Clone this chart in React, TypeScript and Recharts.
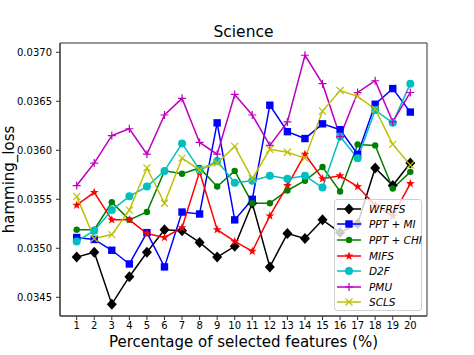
import { LineChart, Line, XAxis, YAxis, Legend, ReferenceArea } from 'recharts'

// percentage of selected features
const percentages = [1, 2, 3, 4, 5, 6, 7, 8, 9, 10, 11, 12, 13, 14, 15, 16, 17, 18, 19, 20]
const yTicks = [0.0345, 0.035, 0.0355, 0.036, 0.0365, 0.037]
const xDomain = [0.05, 20.95]
const yDomain = [0.034309, 0.037095]

// hamming loss per method
const wfrfs = [0.03491, 0.03496, 0.03443, 0.03471, 0.03496, 0.03519, 0.03518, 0.03506, 0.03491, 0.03502, 0.03546, 0.03481, 0.03515, 0.0351, 0.03529, 0.03516, 0.03525, 0.03582, 0.03564, 0.03587]
const pptMi = [0.03511, 0.03509, 0.03498, 0.03484, 0.03516, 0.03481, 0.03537, 0.03535, 0.03628, 0.03529, 0.0355, 0.03646, 0.03619, 0.03612, 0.03627, 0.03621, 0.03596, 0.03647, 0.03663, 0.03639]
const pptChi = [0.03519, 0.03519, 0.03547, 0.03529, 0.03537, 0.03579, 0.03576, 0.03582, 0.03563, 0.03579, 0.03546, 0.03546, 0.03559, 0.03569, 0.03583, 0.03558, 0.03606, 0.03605, 0.03561, 0.03578]
const mifs = [0.03544, 0.03557, 0.03529, 0.03529, 0.03515, 0.03511, 0.03521, 0.03578, 0.03519, 0.03507, 0.03497, 0.03533, 0.03564, 0.03596, 0.03571, 0.03574, 0.03563, 0.03544, 0.03533, 0.03566]
const d2f = [0.03507, 0.03518, 0.03539, 0.03553, 0.03563, 0.03579, 0.03607, 0.0358, 0.03589, 0.03567, 0.03569, 0.03574, 0.03571, 0.03574, 0.03562, 0.03614, 0.03592, 0.03641, 0.03628, 0.03668]
const pmu = [0.03564, 0.03587, 0.03615, 0.03622, 0.03596, 0.03636, 0.03653, 0.03608, 0.03596, 0.03657, 0.03636, 0.03605, 0.03629, 0.03697, 0.03668, 0.03614, 0.03659, 0.03671, 0.03629, 0.03659]
const scls = [0.03553, 0.0351, 0.03514, 0.03539, 0.03582, 0.03546, 0.03592, 0.0358, 0.03587, 0.03604, 0.03571, 0.03601, 0.03598, 0.03592, 0.0364, 0.03661, 0.03655, 0.03642, 0.03606, 0.03585]

const data = percentages.map((p, i) => ({
  pct: p,
  wfrfs: wfrfs[i],
  pptMi: pptMi[i],
  pptChi: pptChi[i],
  mifs: mifs[i],
  d2f: d2f[i],
  pmu: pmu[i],
  scls: scls[i],
}))

type MarkerKind = 'diamond' | 'square' | 'dot' | 'circle' | 'star' | 'plus' | 'cross'

const series: { key: string; name: string; color: string; marker: MarkerKind }[] = [
  { key: 'wfrfs', name: 'WFRFS', color: '#000000', marker: 'diamond' },
  { key: 'pptMi', name: 'PPT + MI', color: '#0000ff', marker: 'square' },
  { key: 'pptChi', name: 'PPT + CHI', color: '#008000', marker: 'dot' },
  { key: 'mifs', name: 'MIFS', color: '#ff0000', marker: 'star' },
  { key: 'd2f', name: 'D2F', color: '#00bfbf', marker: 'circle' },
  { key: 'pmu', name: 'PMU', color: '#bf00bf', marker: 'plus' },
  { key: 'scls', name: 'SCLS', color: '#bfbf00', marker: 'cross' },
]

const FONT = '"DejaVu Sans", sans-serif'

function starPoints(x: number, y: number, outer: number, inner: number) {
  const pts: string[] = []
  for (let k = 0; k < 10; k++) {
    const r = k % 2 === 0 ? outer : inner
    const a = -Math.PI / 2 + (k * Math.PI) / 5
    pts.push(`${x + r * Math.cos(a)},${y + r * Math.sin(a)}`)
  }
  return pts.join(' ')
}

function Marker({ kind, x, y, color }: { kind: MarkerKind; x: number; y: number; color: string }) {
  switch (kind) {
    case 'diamond':
      return <polygon points={`${x},${y - 5.5} ${x + 5},${y} ${x},${y + 5.5} ${x - 5},${y}`} fill={color} />
    case 'square':
      return <rect x={x - 3.7} y={y - 3.7} width={7.4} height={7.4} fill={color} />
    case 'dot':
      return <circle cx={x} cy={y} r={3.2} fill={color} />
    case 'circle':
      return <circle cx={x} cy={y} r={4} fill={color} />
    case 'star':
      return <polygon points={starPoints(x, y, 4.6, 1.9)} fill={color} />
    case 'plus':
      return <path d={`M${x - 4},${y}H${x + 4}M${x},${y - 4}V${y + 4}`} stroke={color} strokeWidth={1.2} />
    case 'cross':
      return <path d={`M${x - 3.5},${y - 3.5}L${x + 3.5},${y + 3.5}M${x - 3.5},${y + 3.5}L${x + 3.5},${y - 3.5}`} stroke={color} strokeWidth={1.2} />
  }
}

function LegendBox() {
  return (
    <div
      style={{
        background: 'rgba(255,255,255,0.8)',
        border: '1px solid #d0d0d0',
        borderRadius: 3,
        boxSizing: 'border-box',
        width: 88,
        height: 112,
        paddingTop: 1,
        fontFamily: FONT,
      }}
    >
      {series.map((s) => (
        <div key={s.key} style={{ display: 'flex', alignItems: 'center', height: 15.6 }}>
          <svg width={24} height={12} style={{ marginLeft: 2, overflow: 'visible' }}>
            <line x1={0} y1={6} x2={24} y2={6} stroke={s.color} strokeWidth={1.5} />
            <Marker kind={s.marker} x={12} y={6} color={s.color} />
          </svg>
          <span style={{ marginLeft: 8, fontSize: 10.5, fontStyle: 'italic', color: '#000', whiteSpace: 'nowrap' }}>
            {s.name}
          </span>
        </div>
      ))}
    </div>
  )
}

export default function App() {
  const axisTick = { fontSize: 10, fill: '#000', fontFamily: FONT }
  return (
    <div style={{ position: 'absolute', left: 0, top: 0, width: 474, height: 355, background: '#fff' }}>
      <LineChart width={474} height={355} data={data} margin={{ top: 43, right: 47, bottom: 0, left: 0 }}>
        <XAxis
          dataKey="pct"
          type="number"
          domain={xDomain}
          ticks={percentages}
          interval={0}
          allowDataOverflow
          height={39}
          tickSize={4}
          tickMargin={2}
          stroke="#333"
          tick={axisTick}
          label={{ value: 'Percentage of selected features (%)', position: 'insideBottom', offset: 8, fill: '#000', fontSize: 15, fontFamily: FONT }}
        />
        <YAxis
          type="number"
          domain={yDomain}
          ticks={yTicks}
          allowDataOverflow
          width={60}
          tickSize={4}
          tickMargin={4}
          stroke="#333"
          tick={axisTick}
          tickFormatter={(v: number) => v.toFixed(4)}
          label={{ value: 'hamming_loss', angle: -90, position: 'insideLeft', offset: 9, fill: '#000', fontSize: 15, fontFamily: FONT, style: { textAnchor: 'middle' } }}
        />
        <ReferenceArea
          x1={xDomain[0]}
          x2={xDomain[1]}
          y1={yDomain[0]}
          y2={yDomain[1]}
          fill="none"
          stroke="#333"
          strokeWidth={1}
          ifOverflow="visible"
          label={{ value: 'Science', position: 'top', offset: 6, fill: '#000', fontSize: 15.5, fontFamily: FONT }}
        />
        {series.map((s) => (
          <Line
            key={s.key}
            dataKey={s.key}
            name={s.name}
            stroke={s.color}
            strokeWidth={1.5}
            isAnimationActive={false}
            dot={(p: any) => <Marker key={`${s.key}-${p.index}`} kind={s.marker} x={p.cx} y={p.cy} color={s.color} />}
            activeDot={false}
          />
        ))}
        <Legend
          layout="vertical"
          align="center"
          verticalAlign="middle"
          content={() => <LegendBox />}
          wrapperStyle={{ left: 334, top: 199, width: 88, height: 112 }}
        />
      </LineChart>
    </div>
  )
}
